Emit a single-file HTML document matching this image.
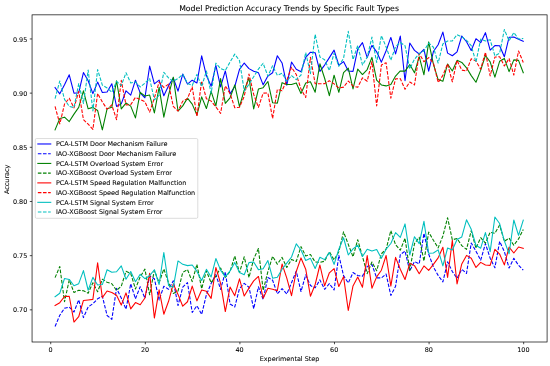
<!DOCTYPE html>
<html lang="en">
<head>
<meta charset="utf-8">
<title>Model Prediction Accuracy Trends by Specific Fault Types</title>
<style>
html,body{margin:0;padding:0;background:#ffffff;}
body{width:550px;height:366px;overflow:hidden;}
svg{display:block;}
</style>
</head>
<body>
<svg width="550" height="366" viewBox="0 0 550 366">
<rect x="0" y="0" width="550" height="366" fill="#ffffff"/>
<g text-rendering="geometricPrecision" font-family="'DejaVu Sans', 'Liberation Sans', sans-serif" fill="#000000" stroke="#000000" stroke-width="0.060" font-size="6.444">
<g fill="none" stroke-width="1.083" stroke-linejoin="round">
<path d="M55.06 87.51 L59.79 93.84 L64.52 84.79 L69.25 74.77 L73.98 93.24 L78.71 92.69 L83.44 72.52 L88.16 80.76 L92.89 93.60 L97.62 82.10 L102.35 92.44 L107.08 91.92 L111.81 83.71 L116.54 106.49 L121.27 103.90 L126.00 90.78 L130.73 95.10 L135.46 80.20 L140.19 92.88 L144.92 97.79 L149.65 66.10 L154.38 83.85 L159.11 80.13 L163.83 95.74 L168.56 85.66 L173.29 78.02 L178.02 91.13 L182.75 74.07 L187.48 84.09 L192.21 80.20 L196.94 83.00 L201.67 55.90 L206.40 75.55 L211.13 86.30 L215.86 65.41 L220.59 86.97 L225.32 70.95 L230.05 93.87 L234.77 86.49 L239.50 69.44 L244.23 63.04 L248.96 68.63 L253.69 71.19 L258.42 72.65 L263.15 84.84 L267.88 76.08 L272.61 72.73 L277.34 55.76 L282.07 62.94 L286.80 85.19 L291.53 62.05 L296.26 69.18 L300.99 71.79 L305.72 57.30 L310.44 52.22 L315.17 52.75 L319.90 71.36 L324.63 65.08 L329.36 57.60 L334.09 50.09 L338.82 65.28 L343.55 61.56 L348.28 70.98 L353.01 71.40 L357.74 49.12 L362.47 42.69 L367.20 57.60 L371.93 45.41 L376.66 51.81 L381.39 62.16 L386.11 50.72 L390.84 37.44 L395.57 53.93 L400.30 36.06 L405.03 80.79 L409.76 43.00 L414.49 50.41 L419.22 54.04 L423.95 49.27 L428.68 71.22 L433.41 51.54 L438.14 44.75 L442.87 32.08 L447.60 53.13 L452.33 55.73 L457.05 51.86 L461.78 35.98 L466.51 41.78 L471.24 50.53 L475.97 38.69 L480.70 42.65 L485.43 32.67 L490.16 50.20 L494.89 45.61 L499.62 45.76 L504.35 56.80 L509.08 37.22 L513.81 37.05 L518.54 39.27 L523.27 41.32" stroke="#0000ff" stroke-linecap="square"/>
<path d="M55.06 326.57 L59.79 315.26 L64.52 308.17 L69.25 307.17 L73.98 312.00 L78.71 299.84 L83.44 317.59 L88.16 307.03 L92.89 303.64 L97.62 298.83 L102.35 296.15 L107.08 315.47 L111.81 319.36 L116.54 288.38 L121.27 298.07 L126.00 309.22 L130.73 283.79 L135.46 298.77 L140.19 286.72 L144.92 298.20 L149.65 276.08 L154.38 278.84 L159.11 299.99 L163.83 286.23 L168.56 289.21 L173.29 280.84 L178.02 305.55 L182.75 287.14 L187.48 282.56 L192.21 312.50 L196.94 305.72 L201.67 314.44 L206.40 294.74 L211.13 283.52 L215.86 274.48 L220.59 289.39 L225.32 272.02 L230.05 304.03 L234.77 306.98 L239.50 288.60 L244.23 283.30 L248.96 287.26 L253.69 308.73 L258.42 286.78 L263.15 299.38 L267.88 277.47 L272.61 280.21 L277.34 293.80 L282.07 288.64 L286.80 294.00 L291.53 282.67 L296.26 271.11 L300.99 291.56 L305.72 274.89 L310.44 285.54 L315.17 287.84 L319.90 279.87 L324.63 289.37 L329.36 283.61 L334.09 290.03 L338.82 255.26 L343.55 275.60 L348.28 283.00 L353.01 272.57 L357.74 275.55 L362.47 276.18 L367.20 266.60 L371.93 264.50 L376.66 277.89 L381.39 277.84 L386.11 274.03 L390.84 295.42 L395.57 286.36 L400.30 254.63 L405.03 251.07 L409.76 271.02 L414.49 261.54 L419.22 263.86 L423.95 233.37 L428.68 254.02 L433.41 266.98 L438.14 275.39 L442.87 281.88 L447.60 261.75 L452.33 271.59 L457.05 278.25 L461.78 269.31 L466.51 273.47 L471.24 242.96 L475.97 251.13 L480.70 260.21 L485.43 243.57 L490.16 258.20 L494.89 267.81 L499.62 241.46 L504.35 251.56 L509.08 268.07 L513.81 258.36 L518.54 265.23 L523.27 270.17" stroke="#0000ff" stroke-dasharray="3.577 1.547"/>
<path d="M55.06 129.85 L59.79 118.54 L64.52 117.15 L69.25 121.57 L73.98 114.09 L78.71 107.43 L83.44 90.84 L88.16 108.82 L92.89 107.37 L97.62 110.42 L102.35 129.83 L107.08 108.81 L111.81 107.32 L116.54 80.77 L121.27 108.96 L126.00 103.07 L130.73 106.16 L135.46 117.89 L140.19 92.33 L144.92 96.01 L149.65 95.04 L154.38 112.89 L159.11 87.33 L163.83 117.13 L168.56 95.06 L173.29 77.16 L178.02 111.04 L182.75 105.90 L187.48 98.15 L192.21 104.13 L196.94 114.92 L201.67 96.85 L206.40 108.54 L211.13 91.37 L215.86 105.90 L220.59 78.63 L225.32 103.33 L230.05 97.79 L234.77 84.96 L239.50 106.54 L244.23 90.21 L248.96 77.98 L253.69 108.97 L258.42 89.03 L263.15 87.67 L267.88 81.48 L272.61 102.78 L277.34 103.13 L282.07 82.65 L286.80 84.54 L291.53 84.49 L296.26 82.91 L300.99 93.47 L305.72 83.05 L310.44 81.85 L315.17 92.20 L319.90 63.73 L324.63 78.25 L329.36 95.72 L334.09 75.18 L338.82 92.29 L343.55 72.68 L348.28 68.11 L353.01 88.98 L357.74 69.13 L362.47 74.54 L367.20 69.56 L371.93 57.39 L376.66 80.02 L381.39 84.98 L386.11 85.90 L390.84 84.56 L395.57 76.02 L400.30 70.94 L405.03 71.09 L409.76 64.59 L414.49 72.85 L419.22 56.72 L423.95 74.77 L428.68 41.92 L433.41 64.04 L438.14 79.54 L442.87 81.30 L447.60 63.95 L452.33 71.04 L457.05 60.35 L461.78 62.41 L466.51 67.77 L471.24 75.60 L475.97 82.28 L480.70 70.17 L485.43 55.53 L490.16 61.93 L494.89 77.18 L499.62 61.28 L504.35 58.44 L509.08 71.63 L513.81 59.85 L518.54 60.34 L523.27 72.79" stroke="#008000" stroke-linecap="square"/>
<path d="M55.06 277.65 L59.79 266.46 L64.52 301.71 L69.25 279.94 L73.98 292.53 L78.71 290.21 L83.44 290.80 L88.16 293.20 L92.89 282.78 L97.62 291.75 L102.35 279.28 L107.08 282.20 L111.81 283.70 L116.54 290.39 L121.27 286.26 L126.00 271.30 L130.73 273.51 L135.46 288.96 L140.19 276.76 L144.92 269.16 L149.65 294.81 L154.38 270.32 L159.11 282.82 L163.83 268.93 L168.56 282.82 L173.29 293.54 L178.02 291.08 L182.75 272.40 L187.48 269.56 L192.21 281.61 L196.94 264.37 L201.67 288.71 L206.40 270.90 L211.13 282.74 L215.86 276.14 L220.59 268.03 L225.32 277.31 L230.05 271.61 L234.77 256.02 L239.50 272.60 L244.23 256.77 L248.96 277.49 L253.69 258.99 L258.42 248.57 L263.15 290.37 L267.88 271.70 L272.61 256.29 L277.34 264.18 L282.07 257.42 L286.80 267.43 L291.53 259.41 L296.26 261.48 L300.99 246.62 L305.72 255.95 L310.44 254.51 L315.17 262.07 L319.90 262.34 L324.63 261.20 L329.36 251.71 L334.09 259.98 L338.82 251.75 L343.55 231.88 L348.28 244.36 L353.01 256.77 L357.74 239.70 L362.47 256.56 L367.20 273.66 L371.93 261.96 L376.66 270.75 L381.39 253.77 L386.11 249.22 L390.84 230.73 L395.57 244.78 L400.30 250.15 L405.03 238.25 L409.76 270.61 L414.49 243.59 L419.22 237.25 L423.95 261.04 L428.68 232.12 L433.41 240.29 L438.14 247.90 L442.87 236.01 L447.60 217.74 L452.33 239.80 L457.05 238.53 L461.78 245.64 L466.51 249.32 L471.24 230.59 L475.97 248.30 L480.70 237.71 L485.43 243.11 L490.16 232.21 L494.89 233.23 L499.62 225.07 L504.35 241.27 L509.08 238.13 L513.81 245.25 L518.54 238.92 L523.27 229.48" stroke="#008000" stroke-dasharray="3.577 1.547"/>
<path d="M55.06 305.44 L59.79 302.70 L64.52 296.50 L69.25 296.27 L73.98 322.04 L78.71 316.73 L83.44 300.46 L88.16 299.93 L92.89 299.37 L97.62 262.70 L102.35 297.67 L107.08 291.02 L111.81 292.43 L116.54 295.16 L121.27 305.08 L126.00 292.90 L130.73 308.93 L135.46 302.59 L140.19 304.73 L144.92 298.05 L149.65 273.34 L154.38 318.04 L159.11 289.87 L163.83 314.20 L168.56 301.31 L173.29 283.87 L178.02 294.41 L182.75 306.22 L187.48 301.75 L192.21 286.11 L196.94 300.82 L201.67 290.03 L206.40 291.33 L211.13 298.33 L215.86 267.53 L220.59 283.33 L225.32 311.56 L230.05 287.08 L234.77 295.71 L239.50 278.78 L244.23 296.03 L248.96 288.15 L253.69 280.90 L258.42 276.45 L263.15 298.26 L267.88 288.34 L272.61 289.31 L277.34 290.70 L282.07 263.98 L286.80 278.15 L291.53 295.63 L296.26 271.51 L300.99 257.93 L305.72 269.18 L310.44 296.24 L315.17 284.50 L319.90 265.00 L324.63 285.82 L329.36 272.81 L334.09 268.69 L338.82 286.55 L343.55 276.62 L348.28 310.51 L353.01 285.97 L357.74 277.07 L362.47 287.29 L367.20 255.58 L371.93 288.17 L376.66 276.91 L381.39 270.19 L386.11 255.46 L390.84 286.05 L395.57 257.38 L400.30 269.31 L405.03 279.49 L409.76 263.32 L414.49 265.62 L419.22 273.73 L423.95 265.93 L428.68 270.31 L433.41 264.36 L438.14 257.88 L442.87 247.34 L447.60 277.35 L452.33 240.32 L457.05 283.98 L461.78 263.96 L466.51 255.40 L471.24 258.18 L475.97 267.41 L480.70 262.38 L485.43 264.92 L490.16 265.41 L494.89 249.29 L499.62 254.08 L504.35 264.89 L509.08 247.11 L513.81 252.98 L518.54 246.96 L523.27 248.40" stroke="#ff0000" stroke-linecap="square"/>
<path d="M55.06 106.34 L59.79 123.96 L64.52 104.03 L69.25 98.22 L73.98 107.87 L78.71 91.49 L83.44 119.63 L88.16 124.17 L92.89 129.41 L97.62 93.42 L102.35 101.98 L107.08 109.12 L111.81 104.94 L116.54 119.61 L121.27 80.41 L126.00 104.93 L130.73 104.60 L135.46 97.39 L140.19 99.49 L144.92 101.72 L149.65 112.15 L154.38 97.95 L159.11 82.14 L163.83 87.40 L168.56 84.17 L173.29 106.40 L178.02 111.03 L182.75 101.14 L187.48 98.63 L192.21 86.84 L196.94 116.45 L201.67 81.04 L206.40 98.75 L211.13 101.11 L215.86 106.90 L220.59 113.31 L225.32 85.95 L230.05 93.52 L234.77 107.72 L239.50 107.23 L244.23 96.30 L248.96 74.06 L253.69 94.39 L258.42 107.30 L263.15 93.14 L267.88 92.89 L272.61 118.57 L277.34 89.43 L282.07 90.80 L286.80 80.22 L291.53 67.20 L296.26 74.47 L300.99 89.02 L305.72 97.54 L310.44 57.17 L315.17 83.83 L319.90 83.77 L324.63 83.64 L329.36 80.69 L334.09 83.85 L338.82 87.95 L343.55 87.11 L348.28 81.00 L353.01 85.98 L357.74 87.27 L362.47 77.85 L367.20 81.22 L371.93 61.64 L376.66 106.05 L381.39 65.01 L386.11 62.79 L390.84 98.16 L395.57 78.89 L400.30 78.65 L405.03 89.32 L409.76 81.96 L414.49 85.01 L419.22 53.49 L423.95 61.78 L428.68 57.59 L433.41 63.00 L438.14 82.48 L442.87 75.39 L447.60 63.87 L452.33 81.85 L457.05 60.36 L461.78 70.13 L466.51 71.04 L471.24 58.74 L475.97 61.08 L480.70 69.25 L485.43 52.25 L490.16 75.95 L494.89 57.04 L499.62 56.74 L504.35 65.96 L509.08 58.53 L513.81 75.06 L518.54 50.97 L523.27 62.43" stroke="#ff0000" stroke-dasharray="3.577 1.547"/>
<path d="M55.06 296.64 L59.79 293.19 L64.52 278.49 L69.25 279.43 L73.98 285.71 L78.71 283.67 L83.44 270.57 L88.16 290.25 L92.89 277.38 L97.62 284.94 L102.35 284.56 L107.08 269.77 L111.81 272.18 L116.54 271.76 L121.27 265.89 L126.00 279.25 L130.73 271.55 L135.46 281.74 L140.19 274.33 L144.92 278.70 L149.65 275.69 L154.38 269.76 L159.11 284.50 L163.83 252.46 L168.56 285.44 L173.29 287.15 L178.02 260.93 L182.75 264.35 L187.48 265.62 L192.21 265.02 L196.94 271.41 L201.67 280.44 L206.40 269.36 L211.13 276.97 L215.86 258.54 L220.59 270.14 L225.32 276.93 L230.05 270.93 L234.77 262.44 L239.50 272.46 L244.23 274.71 L248.96 262.63 L253.69 262.07 L258.42 269.66 L263.15 268.72 L267.88 260.57 L272.61 278.20 L277.34 277.22 L282.07 269.21 L286.80 263.20 L291.53 256.98 L296.26 243.83 L300.99 249.97 L305.72 260.44 L310.44 258.37 L315.17 268.46 L319.90 257.27 L324.63 259.64 L329.36 252.48 L334.09 264.38 L338.82 249.26 L343.55 237.75 L348.28 254.96 L353.01 248.89 L357.74 245.23 L362.47 256.49 L367.20 249.18 L371.93 250.92 L376.66 249.45 L381.39 258.33 L386.11 249.15 L390.84 243.48 L395.57 232.62 L400.30 237.40 L405.03 223.93 L409.76 254.99 L414.49 236.70 L419.22 243.61 L423.95 221.35 L428.68 253.24 L433.41 253.04 L438.14 249.89 L442.87 265.84 L447.60 248.00 L452.33 249.98 L457.05 239.59 L461.78 236.97 L466.51 219.82 L471.24 229.29 L475.97 245.27 L480.70 248.21 L485.43 232.62 L490.16 251.68 L494.89 217.03 L499.62 223.54 L504.35 240.83 L509.08 253.74 L513.81 220.01 L518.54 235.35 L523.27 220.17" stroke="#00bfbf" stroke-linecap="square"/>
<path d="M55.06 98.54 L59.79 80.99 L64.52 99.42 L69.25 106.49 L73.98 107.55 L78.71 83.60 L83.44 103.47 L88.16 70.07 L92.89 111.05 L97.62 69.61 L102.35 85.14 L107.08 87.92 L111.81 92.23 L116.54 81.46 L121.27 85.64 L126.00 72.75 L130.73 82.91 L135.46 81.97 L140.19 86.99 L144.92 83.12 L149.65 78.63 L154.38 99.92 L159.11 95.45 L163.83 72.27 L168.56 77.92 L173.29 81.22 L178.02 78.48 L182.75 74.37 L187.48 83.43 L192.21 85.46 L196.94 74.37 L201.67 86.53 L206.40 70.98 L211.13 93.28 L215.86 63.17 L220.59 68.65 L225.32 70.44 L230.05 62.03 L234.77 54.10 L239.50 60.60 L244.23 90.95 L248.96 84.33 L253.69 76.70 L258.42 69.11 L263.15 63.24 L267.88 76.15 L272.61 65.73 L277.34 75.38 L282.07 73.27 L286.80 81.33 L291.53 75.55 L296.26 79.64 L300.99 75.03 L305.72 52.52 L310.44 73.65 L315.17 34.34 L319.90 56.94 L324.63 59.74 L329.36 70.48 L334.09 53.06 L338.82 66.33 L343.55 58.23 L348.28 31.30 L353.01 59.50 L357.74 45.47 L362.47 64.97 L367.20 57.20 L371.93 37.11 L376.66 62.51 L381.39 35.56 L386.11 46.97 L390.84 60.17 L395.57 46.69 L400.30 42.47 L405.03 45.72 L409.76 68.89 L414.49 59.22 L419.22 53.48 L423.95 51.06 L428.68 43.00 L433.41 47.24 L438.14 63.07 L442.87 43.96 L447.60 40.92 L452.33 40.92 L457.05 34.74 L461.78 36.86 L466.51 40.37 L471.24 45.55 L475.97 62.22 L480.70 39.05 L485.43 40.91 L490.16 39.67 L494.89 55.88 L499.62 53.21 L504.35 29.57 L509.08 40.85 L513.81 32.50 L518.54 39.02 L523.27 38.46" stroke="#00bfbf" stroke-dasharray="3.577 1.547"/>
</g>
<rect x="32.05" y="14.85" width="515.03" height="327.15" fill="none" stroke="#000000" stroke-width="0.696"/>
<path d="M50.73 342.00 v2.26 M145.32 342.00 v2.26 M239.90 342.00 v2.26 M334.49 342.00 v2.26 M429.08 342.00 v2.26 M523.67 342.00 v2.26 M32.05 309.85 h-2.26 M32.05 255.67 h-2.26 M32.05 201.49 h-2.26 M32.05 147.31 h-2.26 M32.05 93.13 h-2.26 M32.05 38.94 h-2.26" stroke="#000000" stroke-width="0.696" fill="none"/>
<text x="50.43" y="351.62" text-anchor="middle">0</text>
<text x="145.02" y="351.62" text-anchor="middle">20</text>
<text x="239.60" y="351.62" text-anchor="middle">40</text>
<text x="334.19" y="351.62" text-anchor="middle">60</text>
<text x="428.78" y="351.62" text-anchor="middle">80</text>
<text x="523.37" y="351.62" text-anchor="middle">100</text>
<text x="27.24" y="312.40" text-anchor="end">0.70</text>
<text x="27.24" y="258.22" text-anchor="end">0.75</text>
<text x="27.24" y="204.04" text-anchor="end">0.80</text>
<text x="27.24" y="149.86" text-anchor="end">0.85</text>
<text x="27.24" y="95.68" text-anchor="end">0.90</text>
<text x="27.24" y="41.50" text-anchor="end">0.95</text>
<text x="289.06" y="10.98" text-anchor="middle" font-size="7.768">Model Prediction Accuracy Trends by Specific Fault Types</text>
<text x="289.56" y="360.70" text-anchor="middle">Experimental Step</text>
<text transform="translate(8.50 179.32) rotate(-90)" text-anchor="middle">Accuracy</text>
<rect x="35.27" y="138.55" width="162.52" height="79.75" rx="1.29" ry="1.29" fill="#ffffff" fill-opacity="0.8" stroke="#cccccc" stroke-opacity="0.8" stroke-width="0.870"/>
<g fill="none" stroke-width="1.083">
<path d="M37.85 143.98 H50.74" stroke="#0000ff" stroke-linecap="square"/>
<path d="M37.85 153.71 H50.74" stroke="#0000ff" stroke-dasharray="3.577 1.547"/>
<path d="M37.85 163.43 H50.74" stroke="#008000" stroke-linecap="square"/>
<path d="M37.85 173.16 H50.74" stroke="#008000" stroke-dasharray="3.577 1.547"/>
<path d="M37.85 182.89 H50.74" stroke="#ff0000" stroke-linecap="square"/>
<path d="M37.85 192.62 H50.74" stroke="#ff0000" stroke-dasharray="3.577 1.547"/>
<path d="M37.85 202.34 H50.74" stroke="#00bfbf" stroke-linecap="square"/>
<path d="M37.85 212.07 H50.74" stroke="#00bfbf" stroke-dasharray="3.577 1.547"/>
</g>
<text x="55.89" y="146.24">PCA-LSTM Door Mechanism Failure</text>
<text x="55.89" y="155.96">IAO-XGBoost Door Mechanism Failure</text>
<text x="55.89" y="165.69">PCA-LSTM Overload System Error</text>
<text x="55.89" y="175.42">IAO-XGBoost Overload System Error</text>
<text x="55.89" y="185.15">PCA-LSTM Speed Regulation Malfunction</text>
<text x="55.89" y="194.87">IAO-XGBoost Speed Regulation Malfunction</text>
<text x="55.89" y="204.60">PCA-LSTM Signal System Error</text>
<text x="55.89" y="214.33">IAO-XGBoost Signal System Error</text>
</g>
</svg>
</body>
</html>
